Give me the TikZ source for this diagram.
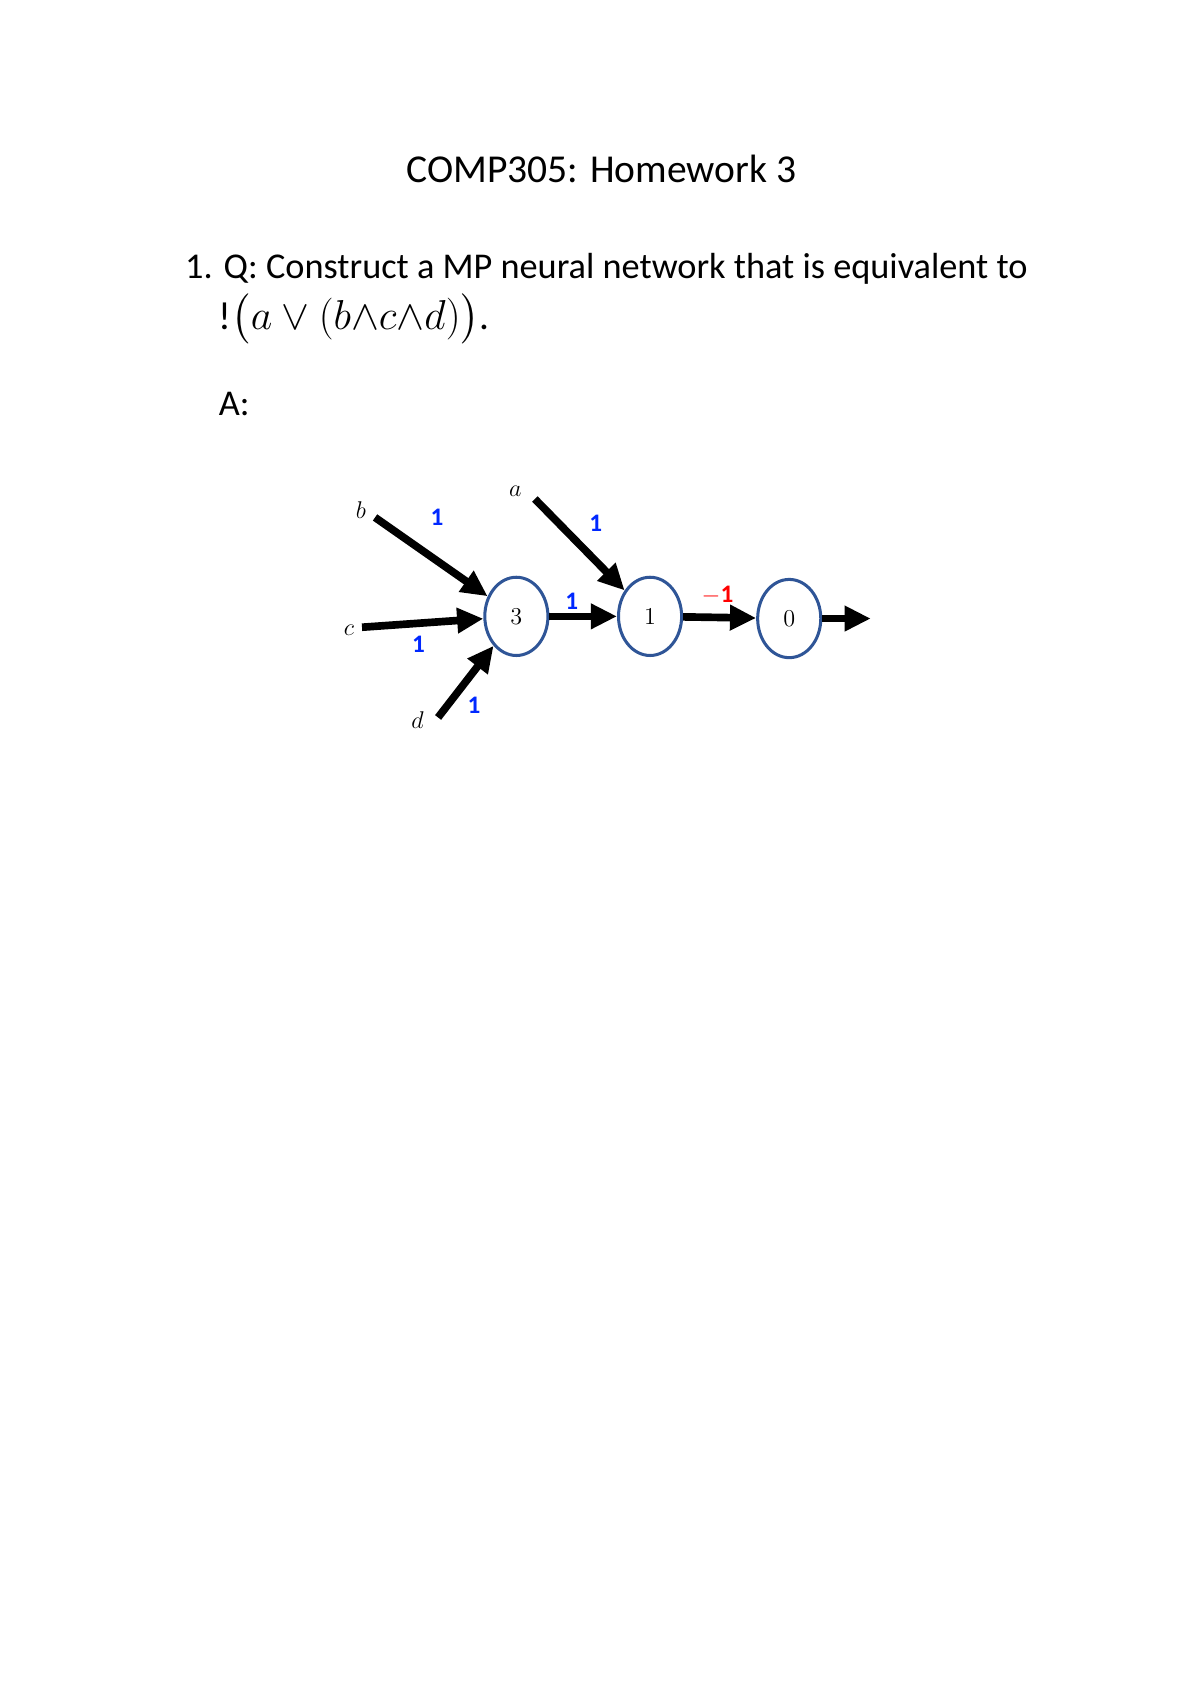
\documentclass[tikz,border=0pt]{standalone}
\usepackage{amsmath}
\usepackage{fontspec}
\setmainfont{Carlito}
\usetikzlibrary{arrows.meta}
\usetikzlibrary{shapes.geometric}
\definecolor{ringblue}{RGB}{47,85,151}
\definecolor{wblue}{RGB}{0,40,255}
\definecolor{wred}{RGB}{255,0,0}
\tikzset{>={Triangle[length=13pt,width=12pt]}}
\tikzset{
    neuron/.style={ellipse,draw=ringblue,line width=1.5pt,inner sep=0pt,
        minimum width=31.3pt,minimum height=38.8pt,font=\fontsize{12}{14}\selectfont},
    wire/.style={->,line width=3.8pt},
    weight/.style={text=wblue,font=\fontsize{12.5}{14}\selectfont},
    invar/.style={font=\fontsize{12.5}{14}\selectfont},
    line/.style={anchor=base west,inner sep=0pt,font=\fontsize{18}{22}\selectfont},
}

\begin{document}
\begin{tikzpicture}[x=0.539pt,y=-0.539pt]
	\useasboundingbox[fill=white] (0,0) rectangle (1104,1562);
	% heading and question
	\node[anchor=base,inner sep=0pt,font=\fontsize{19.6}{24}\selectfont] (title) at (553,168) {COMP305: Homework 3};
	\node[line] (qline) at (170,256) {1. Q: Construct a MP neural network that is equivalent to};
	\node[line,font=\fontsize{19.5}{23}\selectfont] (expr) at (201,303) {!$\big(a \vee (b{\wedge}c{\wedge}d)\big)$.};
	\node[line] (ans) at (201,382) {A:};
	% neurons
	\node[neuron] (n3) at (475,567) {$3$};
	\node[neuron] (n1) at (598,567) {$1$};
	\node[neuron] (n0) at (726,569) {$0$};
	% inputs
	\node[invar] (b) at (332,469) {$b$};
	\node[invar] (c) at (321,580) {$c$};
	\node[invar] (d) at (384,662) {$d$};
	\node[invar] (a) at (474,452) {$a$};
	\coordinate (bs) at (345,476);
	\coordinate (cs) at (333,577);
	\coordinate (ds) at (403,660);
	\coordinate (as) at (492,459);
	\coordinate (out) at (801,569);
	\draw[wire] (bs) -- (n3);
	\draw[wire] (cs) -- (n3);
	\draw[wire] (ds) -- (n3);
	\draw[wire] (as) -- (n1);
	\draw[wire] (n3) -- (n1);
	\draw[wire] (n1) -- (n0);
	\draw[wire] (n0) -- (out);
	% weights
	\node[weight] (wb) at (402,476) {$\mathbf{1}$};
	\node[weight] (wc) at (385,593) {$\mathbf{1}$};
	\node[weight] (wd) at (436,649) {$\mathbf{1}$};
	\node[weight] (wa) at (548,481) {$\mathbf{1}$};
	\node[weight] (w31) at (526,553) {$\mathbf{1}$};
	\node[weight,text=wred] (w10) at (660,548) {$\mathbf{-1}$};
\end{tikzpicture}
\end{document}
